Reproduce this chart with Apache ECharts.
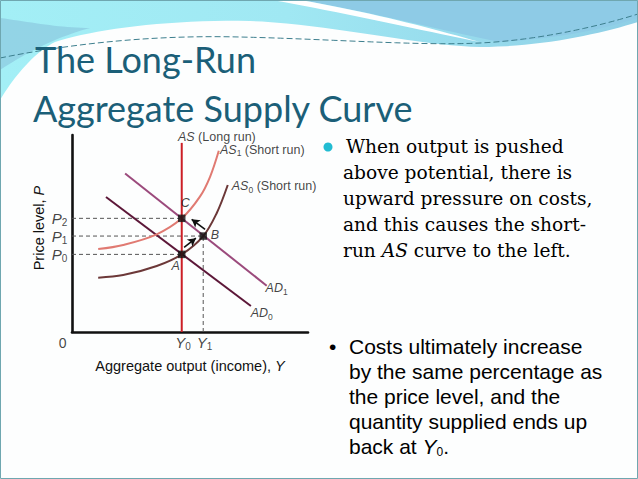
<!DOCTYPE html>
<html><head><meta charset="utf-8">
<script src="https://cdn.jsdelivr.net/npm/echarts@6/dist/echarts.min.js"></script>
<style>html,body{margin:0;padding:0;background:#fff}#c{width:638px;height:479px}</style>
</head><body><div id="c"></div>
<script>
// ---- data (arbitrary units, axis 0..100) ----
const yTickValues = [39.4, 48.7, 57.7];
const yTickLabels = ['P0', 'P1', 'P2'];
const xTickValues = [46.5, 55.6];
const xTickLabels = ['Y0', 'Y1'];
const lrasX = 46.5;
const lrasTop = 96;
const as0 = [[11.1,27.6],[21.7,28.9],[35.9,33.5],[46.5,39.4],[55.6,48.7],[61.3,60.3],[66.0,74.6]];
const as1 = [[11.1,42.1],[21.7,44.2],[35.9,49.6],[46.5,57.7],[54.2,68.7],[58.5,78.8],[62.2,92.0]];
const ad0 = [[14.4,68.5],[75.8,13.2]];
const ad1 = [[22.5,80.5],[82.5,23.5]];
const pointNames = ['A', 'B', 'C'];
const pointX = [46.5, 55.6, 46.5];
const pointY = [39.4, 48.7, 57.7];
const arrow1 = [[47.5,43.0],[52.5,47.6]];
const arrow2 = [[56.4,52.1],[50.7,57.2]];
const curveLabels = ['{i|AS} (Long run)', '{i|AS}{s|1} (Short run)', '{i|AS}{s|0} (Short run)', '{i|AD}{s|1}', '{i|AD}{s|0}'];
const curveLabelPos = [[44.9,99.1],[62.7,92.4],[67.7,74.1],[86.7,22.2],[80.4,9.5]];
const curveLabelAlign = ['left','left','left','center','center'];
const pointLabelPos = [[43.9,33.5],[60.6,49.2],[48.0,65.6]];

const sub = s => s.replace(/^([A-Z])(\d)$/, '{i|$1}{s|$2}');
const rich = {
  i: {fontStyle: 'italic', fontFamily: 'Liberation Sans', fontSize: 12.5, color: '#111'},
  s: {fontFamily: 'Liberation Sans', fontSize: 8.5, color: '#111', padding: [7, 0, 0, 0]}
};
const richTick = {
  i: {fontStyle: 'italic', fontFamily: 'Liberation Sans', fontSize: 15, color: '#111'},
  s: {fontFamily: 'Liberation Sans', fontSize: 10, color: '#111', padding: [8, 0, 0, 0]}
};
const richName = {
  i: {fontStyle: 'italic', fontFamily: 'Liberation Sans', fontSize: 14.5, color: '#111'}
};

// sample a simple SVG-like path (M, L, C, Z) into points for decoration polygons
function samplePath(d) {
  const tok = d.match(/[MLCZ]|-?\d+(\.\d+)?/g);
  const pts = []; let i = 0, cmd = null, cx = 0, cy = 0;
  while (i < tok.length) {
    if (/[MLCZ]/.test(tok[i])) { cmd = tok[i]; i++; if (cmd === 'Z') continue; }
    if (cmd === 'M' || cmd === 'L') { cx = +tok[i]; cy = +tok[i + 1]; i += 2; pts.push([cx, cy]); }
    else if (cmd === 'C') {
      const x1 = +tok[i], y1 = +tok[i+1], x2 = +tok[i+2], y2 = +tok[i+3], x3 = +tok[i+4], y3 = +tok[i+5]; i += 6;
      for (let t = 1; t <= 20; t++) {
        const u = t / 20, v = 1 - u;
        pts.push([v*v*v*cx + 3*v*v*u*x1 + 3*v*u*u*x2 + u*u*u*x3, v*v*v*cy + 3*v*v*u*y1 + 3*v*u*u*y2 + u*u*u*y3]);
      }
      cx = x3; cy = y3;
    } else i++;
  }
  return pts;
}

const bulletRich = {
  n: {fontFamily: 'DejaVu Serif', fontSize: 18.6, color: '#1a1a1a', lineHeight: 26},
  i: {fontFamily: 'DejaVu Serif', fontSize: 18.6, fontStyle: 'italic', color: '#1a1a1a', lineHeight: 26}
};
const sansRich = {
  n: {fontFamily: 'Liberation Sans', fontSize: 21, color: '#111', lineHeight: 25},
  i: {fontFamily: 'Liberation Sans', fontSize: 21, fontStyle: 'italic', color: '#111', lineHeight: 25},
  s: {fontFamily: 'Liberation Sans', fontSize: 12, color: '#111', lineHeight: 25, padding: [10, 0, 0, 0]}
};

const graphic = [
  {type: 'rect', shape: {x: 0, y: 0, width: 638, height: 479}, style: {fill: '#fdfefe'}, z: -20, silent: true},
  {type: 'polygon', z: -19, silent: true, shape: {points: samplePath('M0,0 L638,0 L638,22 C600,34 540,47 480,47 C420,46 330,24 250,21 C170,19 90,30 55,42 C35,52 15,75 0,100 Z')},
    style: {fill: {type: 'linear', x: 0, y: 0, x2: 1, y2: 0, colorStops: [{offset: 0, color: '#a3eff6'}, {offset: 0.45, color: '#a0e8f3'}, {offset: 1, color: '#8fcfe6'}]}}},
  {type: 'polygon', z: -18, silent: true, shape: {points: samplePath('M0,18 C30,22 60,28 90,28 C60,36 30,50 0,70 Z')},
    style: {fill: '#8ecde2', opacity: 0.8}},
  {type: 'polygon', z: -18, silent: true, shape: {points: samplePath('M300,0 L638,0 L638,18 C600,30 560,38 500,42 C440,30 370,12 300,0 Z')},
    style: {fill: '#8ecbe6'}},
  {type: 'polygon', z: -17, silent: true, shape: {points: samplePath('M272,0 L300,0 C370,12 430,28 480,42 C420,30 340,12 272,0 Z')},
    style: {fill: '#ffffff'}},
  {type: 'polyline', z: -16, silent: true, shape: {points: samplePath('M0,58 C80,42 160,35 240,37 C330,39 420,46 480,43 C540,40 600,26 638,14')},
    style: {fill: 'none', stroke: '#3d7f8e', lineWidth: 1, lineDash: [6, 3]}},
  {type: 'rect', z: -15, silent: true, shape: {x: 0.5, y: 0.5, width: 637, height: 478}, style: {fill: 'none', stroke: '#6fa7b0', lineWidth: 1}},
  {type: 'text', x: 35, y: 59, z: 10, style: {text: 'The Long-Run', font: '36px Lato', fill: '#1b5f78', verticalAlign: 'middle'}},
  {type: 'text', x: 33, y: 108, z: 10, style: {text: 'Aggregate Supply Curve', font: '36px Lato', fill: '#1b5f78', verticalAlign: 'middle'}},
  {type: 'circle', z: 10, shape: {cx: 328, cy: 147, r: 4.5}, style: {fill: '#22bcd2'}},
  {type: 'text', x: 346, y: 133, z: 10, style: {text: '{n|When output is pushed}', rich: bulletRich}},
  {type: 'text', x: 343, y: 159, z: 10, style: {
    text: '{n|above potential, there is}\n{n|upward pressure on costs,}\n{n|and this causes the short-}\n{n|run }{i|AS}{n| curve to the left.}', rich: bulletRich}},
  {type: 'text', x: 329, y: 334, z: 10, style: {text: '{n|•}', rich: sansRich}},
  {type: 'text', x: 349, y: 334, z: 10, style: {
    text: '{n|Costs ultimately increase}\n{n|by the same percentage as}\n{n|the price level, and the}\n{n|quantity supplied ends up}\n{n|back at }{i|Y}{s|0}{n|.}', rich: sansRich}}
];

const labelItems = [];
curveLabels.forEach((t, k) => labelItems.push({value: curveLabelPos[k], name: t, label: {align: curveLabelAlign[k]}}));
pointNames.forEach((t, k) => labelItems.push({value: pointLabelPos[k], name: '{i|' + t + '}', label: {align: 'center'}}));

const tickItems = [];
yTickValues.forEach((v, k) => tickItems.push({value: [-2.0, v], name: sub(yTickLabels[k]), label: {align: 'right'}}));
xTickValues.forEach((v, k) => tickItems.push({value: [v + 0.6, -5.4], name: sub(xTickLabels[k]), label: {align: 'center'}}));
tickItems.push({value: [-4.0, -5.4], name: '0', label: {align: 'center'}});

const guides = [];
yTickValues.forEach((v, k) => guides.push([[0, v], [k === 1 ? xTickValues[1] : xTickValues[0], v]]));
guides.push([[xTickValues[1], 0], [xTickValues[1], yTickValues[1]]]);

const series = [];
guides.forEach(g => series.push({type: 'line', data: g, symbol: 'none', silent: true,
  lineStyle: {color: '#555', width: 1, type: [4, 3]}, z: 2}));
series.push({type: 'line', data: ad0, symbol: 'none', lineStyle: {color: '#5c1738', width: 2}, z: 3});
series.push({type: 'line', data: ad1, symbol: 'none', lineStyle: {color: '#9b4a7c', width: 2}, z: 3});
series.push({type: 'line', data: as0, symbol: 'none', smooth: 0.35, lineStyle: {color: '#6c3838', width: 2}, z: 3});
series.push({type: 'line', data: as1, symbol: 'none', smooth: 0.35, lineStyle: {color: '#e07a72', width: 2}, z: 3});
series.push({type: 'line', data: [[lrasX, 0], [lrasX, lrasTop]], symbol: 'none', lineStyle: {color: '#cc1f26', width: 2}, z: 4,
  markLine: {silent: true, symbol: ['none', 'arrow'], symbolSize: [7, 8], label: {show: false},
    lineStyle: {color: '#111', width: 1.6, type: 'solid'},
    data: [[{coord: arrow1[0]}, {coord: arrow1[1]}], [{coord: arrow2[0]}, {coord: arrow2[1]}]]}});
series.push({type: 'scatter', data: pointX.map((x, k) => [x, pointY[k]]), symbol: 'rect', symbolSize: 7.5,
  itemStyle: {color: '#111'}, z: 6});
series.push({type: 'scatter', data: labelItems, symbolSize: 0, clip: false, z: 7,
  label: {show: true, position: 'inside', verticalAlign: 'middle', formatter: p => p.name,
    fontFamily: 'Liberation Sans', fontSize: 12.5, color: '#111', rich: rich}});
series.push({type: 'scatter', data: tickItems, symbolSize: 0, clip: false, z: 7,
  label: {show: true, position: 'inside', verticalAlign: 'middle', formatter: p => p.name,
    fontFamily: 'Liberation Sans', fontSize: 14, color: '#111', rich: richTick}});

const option = {
  animation: false,
  backgroundColor: 'transparent',
  graphic: graphic,
  grid: {left: 72, top: 135, width: 236, height: 197},
  xAxis: {type: 'value', min: 0, max: 100, splitLine: {show: false}, axisTick: {show: false}, axisLabel: {show: false},
    axisLine: {lineStyle: {color: '#111', width: 2.6}},
    name: 'Aggregate output (income), {i|Y}', nameLocation: 'middle', nameGap: 26,
    nameTextStyle: {fontFamily: 'Liberation Sans', fontSize: 14.5, color: '#111', rich: richName}},
  yAxis: {type: 'value', min: 0, max: 100, splitLine: {show: false}, axisTick: {show: false}, axisLabel: {show: false},
    axisLine: {lineStyle: {color: '#111', width: 2.6}},
    name: 'Price level, {i|P}', nameLocation: 'middle', nameGap: 26, nameRotate: 90,
    nameTextStyle: {fontFamily: 'Liberation Sans', fontSize: 14.5, color: '#111', rich: richName, padding: [0, 0, 0, 11]}},
  series: series
};
const chart = echarts.init(document.getElementById('c'), null, {renderer: 'svg'});
chart.setOption(option);
</script></body></html>
